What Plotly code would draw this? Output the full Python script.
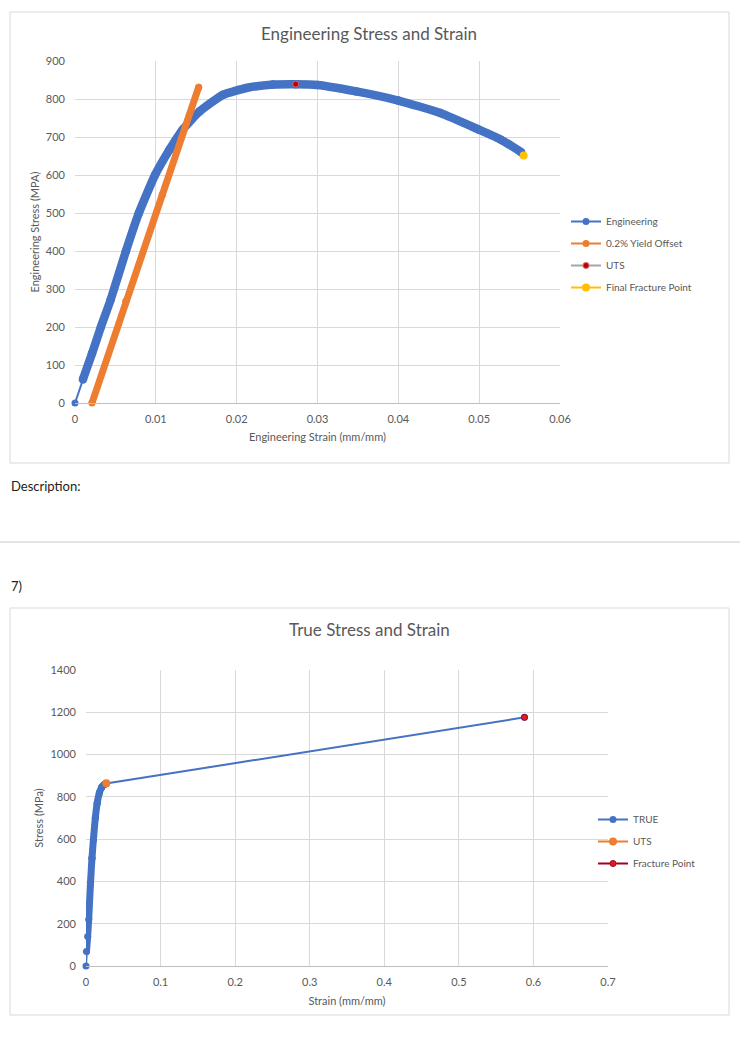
import plotly.graph_objects as go

# ---------------- Data ----------------
eng_strain = [0, 0.00098, 0.0021, 0.0032, 0.0044, 0.0063, 0.0079, 0.0099, 0.0117, 0.0133,
              0.0154, 0.0183, 0.0212, 0.0245, 0.0273, 0.0300, 0.0348, 0.0400, 0.0452,
              0.0500, 0.0527, 0.0552]
eng_stress = [0, 62, 130, 200, 271, 400, 500, 600, 667, 719,
              767, 811, 829, 838, 839, 837, 820, 796, 763,
              719, 693, 660]

offset_strain = [0.0021, 0.0063, 0.0108, 0.0153]
offset_stress = [0, 268, 548, 831]

uts_eng_strain = [0.0273]
uts_eng_stress = [839]
fracture_eng_strain = [0.0555]
fracture_eng_stress = [651]

true_strain = [0, 0.0006, 0.0022, 0.0036, 0.0060, 0.0080, 0.0100, 0.0125, 0.0150,
               0.0180, 0.0210, 0.0240, 0.0270, 0.588]
true_stress = [0, 68, 140, 220, 390, 510, 600, 700, 770,
               820, 845, 857, 863, 1176]
uts_true_strain = [0.0272]
uts_true_stress = [864]
fracture_true_strain = [0.588]
fracture_true_stress = [1176]

BLUE = "#4472C4"
ORANGE = "#ED7D31"
GRAY = "#A5A5A5"
RED = "#C00000"
YELLOW = "#FFC000"
TXT = "#595959"
FONT = "Lato"

W, H = 740, 1053
def px(x):
    return x / W
def py(y):
    return 1 - y / H

fig = go.Figure()

# ---------------- Chart 1 ----------------
fig.add_trace(go.Scatter(x=eng_strain, y=eng_stress, mode="lines+markers", name="Engineering",
                         line=dict(color=BLUE, width=2), marker=dict(color=BLUE, size=7),
                         cliponaxis=False,
                         xaxis="x", yaxis="y", legend="legend", legendgroup="e1"))
fig.add_trace(go.Scatter(x=eng_strain[1:], y=eng_stress[1:], mode="lines+markers",
                         line=dict(color=BLUE, width=8.5, shape="spline", smoothing=0.5),
                         marker=dict(color=BLUE, size=8.5), showlegend=False, hoverinfo="skip",
                         xaxis="x", yaxis="y"))
fig.add_trace(go.Scatter(x=offset_strain, y=offset_stress, mode="lines+markers", name="0.2% Yield Offset",
                         line=dict(color=ORANGE, width=2), marker=dict(color=ORANGE, size=7),
                         cliponaxis=False,
                         xaxis="x", yaxis="y", legend="legend", legendgroup="e2"))
fig.add_trace(go.Scatter(x=offset_strain, y=offset_stress, mode="lines+markers",
                         line=dict(color=ORANGE, width=7), marker=dict(color=ORANGE, size=7),
                         showlegend=False, hoverinfo="skip", xaxis="x", yaxis="y"))
fig.add_trace(go.Scatter(x=uts_eng_strain, y=uts_eng_stress, mode="lines+markers", name="UTS",
                         line=dict(color=GRAY, width=2),
                         marker=dict(color=RED, size=6, line=dict(color="#E06060", width=1)),
                         xaxis="x", yaxis="y", legend="legend", legendgroup="e3"))
fig.add_trace(go.Scatter(x=fracture_eng_strain, y=fracture_eng_stress, mode="lines+markers",
                         name="Final Fracture Point",
                         line=dict(color=YELLOW, width=2), marker=dict(color=YELLOW, size=8),
                         xaxis="x", yaxis="y", legend="legend", legendgroup="e4"))

# ---------------- Chart 2 ----------------
fig.add_trace(go.Scatter(x=true_strain, y=true_stress, mode="lines+markers", name="TRUE",
                         line=dict(color=BLUE, width=2), marker=dict(color=BLUE, size=7),
                         cliponaxis=False,
                         xaxis="x2", yaxis="y2", legend="legend2", legendgroup="t1"))
fig.add_trace(go.Scatter(x=true_strain[1:-1], y=true_stress[1:-1], mode="lines+markers",
                         line=dict(color=BLUE, width=7, shape="spline", smoothing=0.6),
                         marker=dict(color=BLUE, size=7), showlegend=False, hoverinfo="skip",
                         xaxis="x2", yaxis="y2"))
fig.add_trace(go.Scatter(x=uts_true_strain, y=uts_true_stress, mode="lines+markers", name="UTS",
                         line=dict(color=ORANGE, width=2), marker=dict(color=ORANGE, size=8),
                         xaxis="x2", yaxis="y2", legend="legend2", legendgroup="t2"))
fig.add_trace(go.Scatter(x=fracture_true_strain, y=fracture_true_stress, mode="lines+markers",
                         name="Fracture Point",
                         line=dict(color="#A50021", width=2),
                         marker=dict(color="#E02020", size=6, line=dict(color="#A50021", width=1)),
                         xaxis="x2", yaxis="y2", legend="legend2", legendgroup="t3"))

axis_common = dict(showgrid=True, gridcolor="#D9D9D9", gridwidth=1, zeroline=False,
                   ticks="", tickfont=dict(family=FONT, size=11, color=TXT),
                   automargin=False, fixedrange=True)

fig.update_layout(
    width=W, height=H, autosize=False,
    margin=dict(l=0, r=0, t=0, b=0),
    paper_bgcolor="white", plot_bgcolor="white",
    showlegend=True,
    xaxis=dict(domain=[px(75), px(560)], range=[0, 0.06], dtick=0.01, anchor="y",
               showline=True, linecolor="#BFBFBF", ticklabelstandoff=6,
               title=dict(text="Engineering Strain (mm/mm)", standoff=9,
                          font=dict(family=FONT, size=11, color=TXT)), **axis_common),
    yaxis=dict(domain=[py(403), py(61)], range=[0, 900], dtick=100, anchor="x",
               ticklabelstandoff=9,
               title=dict(text="Engineering Stress (MPA)", standoff=4,
                          font=dict(family=FONT, size=11, color=TXT)), **axis_common),
    xaxis2=dict(domain=[px(86), px(608)], range=[0, 0.7], dtick=0.1, anchor="y2",
                showline=True, linecolor="#BFBFBF", ticklabelstandoff=6,
                title=dict(text="Strain (mm/mm)", standoff=10,
                           font=dict(family=FONT, size=11, color=TXT)), **axis_common),
    yaxis2=dict(domain=[py(966), py(670)], range=[0, 1400], dtick=200, anchor="x2",
                ticklabelstandoff=9,
                title=dict(text="Stress (MPa)", standoff=4,
                           font=dict(family=FONT, size=11, color=TXT)), **axis_common),
    legend=dict(x=px(566), y=py(207), xanchor="left", yanchor="top",
                font=dict(family=FONT, size=10, color=TXT), bgcolor="rgba(0,0,0,0)",
                traceorder="grouped", tracegroupgap=3, itemwidth=30),
    legend2=dict(x=px(593), y=py(805), xanchor="left", yanchor="top",
                 font=dict(family=FONT, size=10, color=TXT), bgcolor="rgba(0,0,0,0)",
                 traceorder="grouped", tracegroupgap=3, itemwidth=30),
    shapes=[
        dict(type="rect", xref="paper", yref="paper", x0=px(10), x1=px(729), y0=py(463), y1=py(12),
             line=dict(color="#D9D9D9", width=1), layer="below"),
        dict(type="rect", xref="paper", yref="paper", x0=px(10), x1=px(729), y0=py(1015), y1=py(608),
             line=dict(color="#D9D9D9", width=1), layer="below"),
        dict(type="line", xref="paper", yref="paper", x0=0, x1=1, y0=py(542), y1=py(542),
             line=dict(color="#C8C8C8", width=1)),
    ],
    annotations=[
        dict(text="Engineering Stress and Strain", x=px(369), y=py(33), xref="paper", yref="paper",
             showarrow=False, xanchor="center", yanchor="middle",
             font=dict(family=FONT, size=17, color=TXT)),
        dict(text="True Stress and Strain", x=px(369), y=py(629), xref="paper", yref="paper",
             showarrow=False, xanchor="center", yanchor="middle",
             font=dict(family=FONT, size=17, color=TXT)),
        dict(text="Description:", x=px(9), y=py(486), xref="paper", yref="paper",
             showarrow=False, xanchor="left", yanchor="middle",
             font=dict(family=FONT, size=13, color="#222222")),
        dict(text="7)", x=px(9), y=py(586), xref="paper", yref="paper",
             showarrow=False, xanchor="left", yanchor="middle",
             font=dict(family=FONT, size=13, color="#222222")),
    ],
)

fig.write_html("out.html")
